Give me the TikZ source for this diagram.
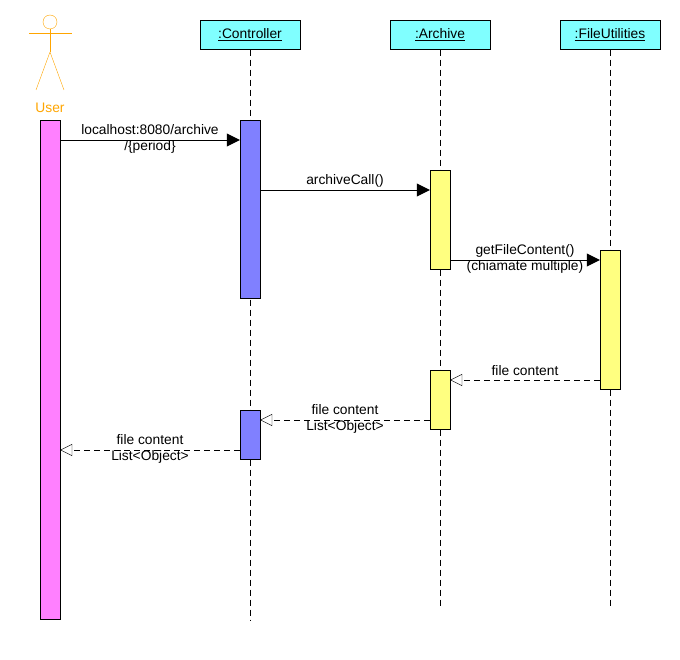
\documentclass[tikz,border=0pt]{standalone}
\usepackage{fontspec}
\setmainfont{Liberation Sans}
\usetikzlibrary{arrows.meta}
\definecolor{hc}{HTML}{80FFFF}
\definecolor{uc}{HTML}{FF80FF}
\definecolor{bc}{HTML}{8080FF}
\definecolor{yc}{HTML}{FFFF80}
\definecolor{oc}{HTML}{FFA500}
\begin{document}
\begin{tikzpicture}[x=1pt,y=-1pt,
  font=\fontsize{13.8}{16}\selectfont,
  hdr/.style={draw,fill=hc,minimum width=100pt,minimum height=29pt,inner sep=0pt},
  life/.style={dashed,dash pattern=on 6pt off 4pt},
  act/.style={draw,minimum width=20pt,inner sep=0pt},
  call/.style={-{Triangle[length=13pt,width=13pt]}},
  ret/.style={dashed,dash pattern=on 6pt off 4pt,-{Triangle[open,length=12pt,width=12pt]}},
  lbl/.style={inner sep=0pt,align=center}]
\useasboundingbox (0,0) rectangle (680,660);
% actor
\draw[oc] (50,22) circle (7);
\draw[oc] (50,29) -- (50,52) coordinate (hip);
\draw[oc] (29,33) -- (72,33);
\draw[oc] (hip) -- (36,90) (hip) -- (64,90);
\node[text=oc] (user) at (50,108) {User};
% headers
\node[hdr] (c) at (250,35) {\underline{:Controller}};
\node[hdr] (a) at (440,35) {\underline{:Archive}};
\node[hdr] (f) at (610,35) {\underline{:FileUtilities}};
\coordinate (ce) at (250,620);
\coordinate (ae) at (440,607);
\coordinate (fe) at (610,607);
\draw[life] (c.south) -- (ce);
\draw[life] (a.south) -- (ae);
\draw[life] (f.south) -- (fe);
% activations
\node[act,fill=uc,minimum height=499pt] (u1) at (50,369.5) {};
\node[act,fill=bc,minimum height=178pt] (c1) at (250,209) {};
\node[act,fill=bc,minimum height=49pt] (c2) at (250,434.5) {};
\node[act,fill=yc,minimum height=99pt] (a1) at (440,219.5) {};
\node[act,fill=yc,minimum height=59pt] (a2) at (440,399.5) {};
\node[act,fill=yc,minimum height=139pt] (f1) at (610,319.5) {};
% messages
\draw[call] (u1.east|-0,140) -- (c1.west|-0,140);
\node[lbl] (m1) at (150,139) {localhost:8080/archive\\/\{period\}};
\draw[call] (c1.east|-0,190) -- (a1.west|-0,190);
\node[lbl] (m2) at (345,181) {archiveCall()};
\draw[call] (a1.east|-0,260) -- (f1.west|-0,260);
\node[lbl] (m3) at (525,259) {getFileContent()\\(chiamate multiple)};
\draw[ret] (f1.west|-0,380) -- (a2.east|-0,380);
\node[lbl] (m4) at (525,371) {file content};
\draw[ret] (a2.west|-0,420) -- (c2.east|-0,420);
\node[lbl] (m5) at (345,419) {file content\\List<Object>};
\draw[ret] (c2.west|-0,450) -- (u1.east|-0,450);
\node[lbl] (m6) at (150,449) {file content\\List<Object>};
\end{tikzpicture}
\end{document}
